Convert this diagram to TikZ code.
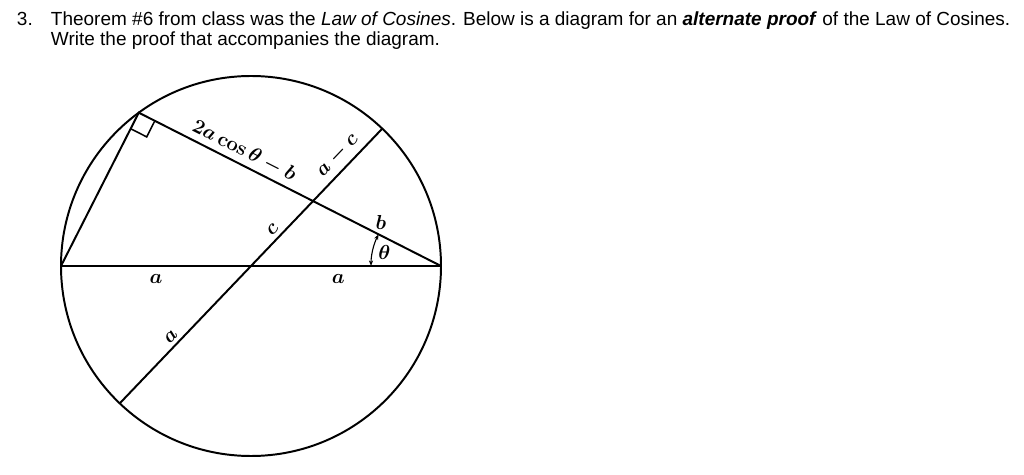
\documentclass[tikz,border=0pt]{standalone}
\usepackage[no-math]{fontspec}
\setmainfont{Liberation Sans}
\usetikzlibrary{calc}
\usetikzlibrary{positioning}
\usetikzlibrary{arrows.meta}

\begin{document}
\begin{tikzpicture}[x=0.025cm, y=0.025cm, line width=1.4pt,
        every node/.style={inner sep=0pt},
        question/.style={anchor=base west, font=\fontsize{13.5}{16}\selectfont},
        lbl/.style={font=\fontsize{14}{16}\selectfont\boldmath}]
        \useasboundingbox (0,0) rectangle (1024,474);
        
        \node[question] (number) at (16,448) {3.};
        \node[question] (line one) at (50,448) {Theorem \#6 from class was the \textit{Law of Cosines}. Below is a diagram for an \textbf{\textit{alternate proof}} of the Law of Cosines.};
        \node[question] (line two) at (50,428) {Write the proof that accompanies the diagram.};
        
        \def\rad{190}
        \def\ang{26.9}
        \def\dia{46.3}
        
        \coordinate (O) at (251,208);
        \coordinate (A) at ($(O)+(180:\rad)$);
        \coordinate (B) at ($(O)+(0:\rad)$);
        \coordinate (Q) at ($(O)+({180-2*\ang}:\rad)$);
        \coordinate (T) at ($(O)+(\dia:\rad)$);
        \coordinate (D) at ($(O)+({180+\dia}:\rad)$);
        \coordinate (P) at (intersection of T--D and B--Q);
        
        \draw (O) circle (\rad);
        \draw (A) -- (B);
        \draw (D) -- (T);
        \draw (A) -- (Q) -- (B);
        
        % right angle at Q
        \coordinate (qb) at ($(Q)!0.45cm!(B)$);
        \coordinate (qa) at ($(Q)!0.45cm!(A)$);
        \draw[line width=1.1pt] (qb) -- ($(qb)+(qa)-(Q)$) -- (qa);
        
        % angle theta
        \draw[line width=0.8pt, {Stealth[length=4pt,width=3pt]}-{Stealth[length=4pt,width=3pt]}]
            ($(B)+(180:70)$) arc[start angle=180, end angle={180-\ang}, radius=70];
        \node[lbl] (theta) at ($(B)+(167:58)$) {$\theta$};
        
        % lengths
        \path (Q) -- (P) node[lbl, pos=0.57, sloped, above=3pt] (len qp) {$2a\cos\theta-b$};
        \path (P) -- (T) node[lbl, pos=0.5, sloped, above=4pt] (len pt) {$a-c$};
        \path (O) -- (P) node[lbl, pos=0.46, sloped, above=3pt] (len op) {$c$};
        \path (P) -- (B) node[lbl, pos=0.53, above=3.5pt] (len pb) {$b$};
        \path (A) -- (O) node[lbl, midway, below=5.5pt] (len ao) {$a$};
        \path (O) -- (B) node[lbl, pos=0.46, below=5.5pt] (len ob) {$a$};
        \path (D) -- (O) node[lbl, pos=0.44, sloped, above=2.5pt] (len do) {$a$};
    \end{tikzpicture}
\end{document}
